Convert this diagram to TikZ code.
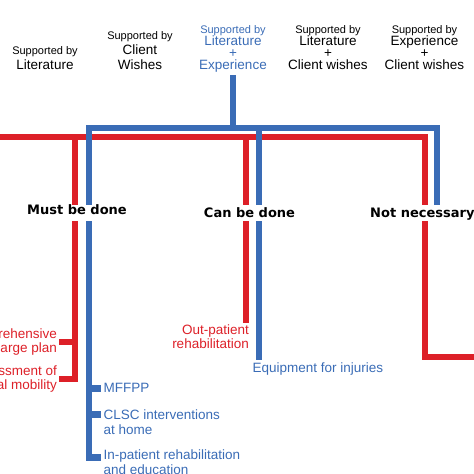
\documentclass[tikz,border=0pt]{standalone}
\usepackage{fontspec}
\setmainfont{Liberation Sans}
\newfontfamily\labelfont{DejaVu Sans}
\definecolor{planred}{RGB}{221,32,40}
\definecolor{planblue}{RGB}{58,108,182}

\begin{document}
\begin{tikzpicture}[x=1pt, y=-1pt,
    redline/.style={draw=planred, line width=6.5pt},
    blueline/.style={draw=planblue, line width=6.5pt},
    header/.style={align=center, anchor=base, inner sep=3pt, font=\fontsize{13.5}{14.5}\selectfont},
    decision/.style={anchor=base, inner xsep=2pt, inner ysep=0pt, text height=12pt, text depth=4pt,
        font=\labelfont\bfseries\fontsize{13}{15}\selectfont},
    redtext/.style={text=planred, align=right, anchor=east, inner sep=2pt, font=\fontsize{13.5}{14}\selectfont},
    bluetext/.style={text=planblue, align=left, anchor=north west, inner sep=2.5pt, font=\fontsize{13.5}{14.5}\selectfont}]
    \def\sby{{\fontsize{11}{12}\selectfont Supported by}}
    \useasboundingbox (0,0) rectangle (474,474);

    % Headers (base = last line)
    \node[header] (hLit) at (45,69) {\sby\\Literature};
    \node[header] (hCli) at (140,69) {\sby\\[0.5pt]Client\\[0.5pt]Wishes};
    \node[header, text=planblue] (hLitExp) at (233,69) {\sby\\[-2.8pt]Literature\\[-2.8pt]+\\[-2.8pt]Experience};
    \node[header] (hLitCli) at (328,69) {\sby\\[-2.8pt]Literature\\[-2.8pt]+\\[-2.8pt]Client wishes};
    \node[header] (hExpCli) at (424.5,69) {\sby\\[-2.8pt]Experience\\[-2.8pt]+\\[-2.8pt]Client wishes};

    % Bus points
    \coordinate (redL) at (-10,137);
    \coordinate (mustR) at (75,137);
    \coordinate (canR) at (246,137);
    \coordinate (notR) at (425,137);
    \coordinate (mustB) at (89,128);
    \coordinate (canB) at (259,128);
    \coordinate (notB) at (437,128);
    \coordinate (edge) at (490,357);

    % Decisions
    \node[decision, text height=9.5pt, text depth=6.5pt] (must) at (77,214.5) {Must be done};
    \node[decision] (can) at (249.5,217) {Can be done};
    \node[decision, anchor=base west] (notnec) at (368,217) {Not necessary};

    % Items
    \node[redtext] (plan) at (59,342) {Comprehensive\\discharge plan};
    \node[redtext] (mobility) at (59,379) {Assessment of\\functional mobility};
    \node[redtext, anchor=north east] (outpat) at (251,322.5) {Out-patient\\rehabilitation};
    \node[bluetext] (equip) at (250,360) {Equipment for injuries};
    \node[bluetext] (mffpp) at (101,381) {MFFPP};
    \node[bluetext] (clsc) at (101,407.5) {CLSC interventions\\at home};
    \node[bluetext] (inpat) at (101,447.5) {In-patient rehabilitation\\and education};

    % Red paths
    \draw[redline] (redL) -- (notR) -- (notR |- notnec.north);
    \draw[redline] (mustR) -- (mustR |- must.north);
    \draw[redline] (canR) -- (canR |- can.north);
    \draw[redline] (mustR |- must.south) |- (mobility.east);
    \draw[redline] (mustR |- plan.east) -- (plan.east);
    \draw[redline] (canR |- can.south) -- (canR |- outpat.north);
    \draw[redline] (notR |- notnec.south) |- (edge);

    % Blue paths
    \draw[blueline] (hLitExp.south) -- (hLitExp.south |- notB);
    \draw[blueline] (mustB |- must.north) -- (mustB) -- (notB) -- (notB |- notnec.north);
    \draw[blueline] (canB) -- (canB |- can.north);
    \draw[blueline] (canB |- can.south) -- (canB |- equip.north);
    \draw[blueline] (mustB |- must.south) |- ([yshift=-10pt]inpat.north west);
    \draw[blueline] (mustB |- mffpp.west) -- (mffpp.west);
    \draw[blueline] (mustB |- clsc.north west) ++(0,7) -- ([yshift=-7pt]clsc.north west);
\end{tikzpicture}
\end{document}
